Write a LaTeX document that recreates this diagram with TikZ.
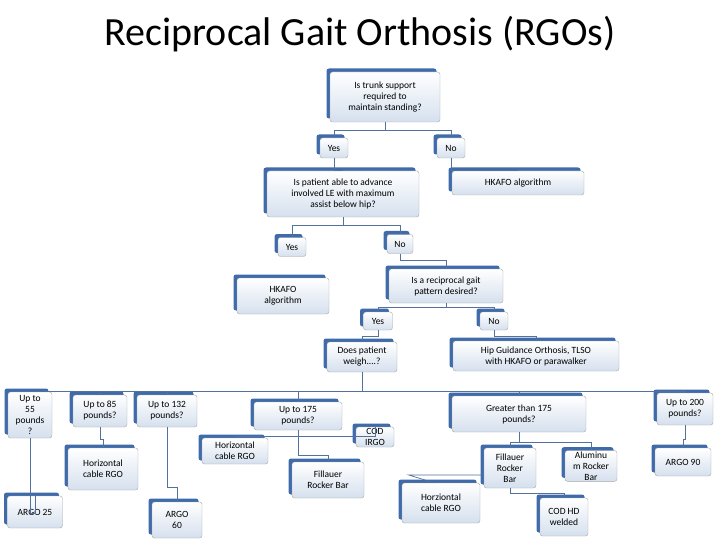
\documentclass[tikz,border=0pt]{standalone}
\usepackage{fontspec}
\setmainfont{Carlito}
\usetikzlibrary{shadows}
\definecolor{shade}{HTML}{3F6BAA}
\definecolor{face}{HTML}{D5E0EE}
\begin{document}
\begin{tikzpicture}[x=1pt,y=-1pt,
  bx/.style={draw=gray!70, rounded corners=2.5pt, top color=white, bottom color=face,
    general shadow={fill=shade, shadow xshift=-3.5pt, shadow yshift=3.5pt},
    align=center, inner sep=1pt, font=\fontsize{9.5}{11}\selectfont, text=black},
  ln/.style={draw=shade!70!gray, line width=0.7pt}]
\useasboundingbox (0,0) rectangle (720,540);
\node[font=\fontsize{40}{44}\selectfont] (title) at (360,34) {Reciprocal Gait Orthosis (RGOs)};
\newcommand\bx[6]{\node[bx, minimum width=#4, minimum height=#5] (#1) at (#2,#3) {#6};}
\bx{trunk}{385}{97}{110}{50}{Is trunk support\\required to\\maintain standing?}
\bx{yes1}{334}{148}{28}{20}{Yes}
\bx{no1}{451}{148}{28}{20}{No}
\bx{patient}{343}{194}{152}{46}{Is patient able to advance\\involved LE with maximum\\assist below hip?}
\bx{hk1}{518}{183}{132}{24}{HKAFO algorithm}
\bx{yes2}{292}{247}{28}{19}{Yes}
\bx{no2}{400}{244}{26}{19}{No}
\bx{hk2}{283}{296}{92}{36}{HKAFO\\algorithm}
\bx{recip}{446}{286}{114}{34}{Is a reciprocal gait\\pattern desired?}
\bx{yes3}{378}{321}{29}{18}{Yes}
\bx{no3}{494}{321}{28}{18}{No}
\bx{does}{362}{357}{70}{30}{Does patient\\weigh....?}
\bx{hip}{536}{356}{166}{30}{Hip Guidance Orthosis, TLSO\\with HKAFO or parawalker}
\bx{u55}{30}{415}{44}{46}{Up to\\55\\pounds\\?}
\bx{u85}{100}{411}{54}{32}{Up to 85\\pounds?}
\bx{u132}{167}{411}{60}{32}{Up to 132\\pounds?}
\bx{u175}{298}{416}{88}{28}{Up to 175\\pounds?}
\bx{cod}{375}{437}{38}{20}{COD\\IRGO}
\bx{g175}{519}{414}{134}{36}{Greater than 175\\pounds?}
\bx{u200}{685}{409}{56}{32}{Up to 200\\pounds?}
\bx{h85}{103}{469}{70}{42}{Horizontal\\cable RGO}
\bx{h175}{235}{451}{66}{26}{Horizontal\\cable RGO}
\bx{fil1}{328}{480}{72}{36}{Fillauer\\Rocker Bar}
\bx{a25}{35}{512}{55}{32}{ARGO 25}
\bx{a60}{177}{520}{50}{36}{ARGO\\60}
\bx{fil2}{510}{468}{52}{40}{Fillauer\\Rocker\\Bar}
\bx{alu}{591}{466}{52}{28}{Aluminu\\m Rocker\\Bar}
\bx{h2}{441}{503}{78}{40}{Horziontal\\cable RGO}
\bx{codhd}{564}{517}{48}{38}{COD HD\\welded}
\bx{a90}{683}{462}{56}{28}{ARGO 90}
\begin{scope}[on background layer/.try]
\end{scope}
\draw[ln] (trunk.south) -- ++(0,8) -| (yes1.north);
\draw[ln] (trunk.south) -- ++(0,8) -| (no1.north);
\draw[ln] (yes1.south) |- (patient.north) ;
\draw[ln] (no1.south) |- (hk1.north);
\draw[ln] (patient.south) -- ++(0,8) -| (yes2.north);
\draw[ln] (patient.south) -- ++(0,8) -| (no2.north);
\draw[ln] (no2.south) -- ++(0,7) -| (recip.north);
\draw[ln] (recip.south) -- ++(0,4) -| (yes3.north);
\draw[ln] (recip.south) -- ++(0,4) -| (no3.north);
\draw[ln] (yes3.south) -- ++(0,6) -| (does.north);
\draw[ln] (no3.south) -- ++(0,6) -| (hip.north);
\coordinate (bus) at (362,391);
\draw[ln] (does.south) -- (bus);
\foreach \t in {u55,u85,u132,u175,g175,u200}{\draw[ln] (bus) -| (\t.north);}
\draw[ln] (u55.south) |- ++(0,75) -| (a25.north);
\draw[ln] (u85.south) -- ++(0,12) -| (h85.north);
\draw[ln] (u132.south) -- ++(0,60) -| (a60.north);
\draw[ln] (u175.south) -- ++(0,6) -| (h175.north);
\draw[ln] (u175.south) -- ++(0,6) -| (cod.north);
\draw[ln] (u175.south) -- ++(0,25) -| (fil1.north);
\draw[ln] (g175.south) -- ++(0,10) -| (fil2.north);
\draw[ln] (g175.south) -- ++(0,10) -| (alu.north);
\draw[ln] (fil2.south) -- ++(0,5) -| (codhd.north);
\draw[ln] (fil2.west) ++(0,7) -- ++(-15,0) -- ++(-60,0) -- (h2.north -| 434,0) ;
\draw[ln] (u200.south) -- ++(0,14) -| (a90.north);
\end{tikzpicture}
\end{document}
